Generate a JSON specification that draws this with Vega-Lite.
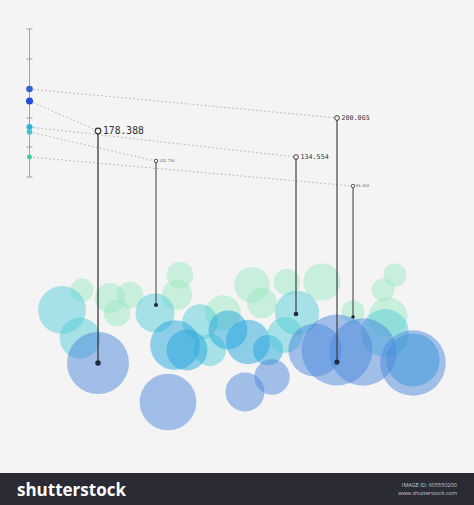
{
  "$schema": "https://vega.github.io/schema/vega-lite/v6.json",
  "width": 474,
  "height": 505,
  "padding": 0,
  "autosize": {"type": "fit", "contains": "padding"},
  "background": "#f4f4f4",
  "config": {"view": {"stroke": null}},
  "resolve": {"scale": {"color": "independent", "size": "independent", "strokeWidth": "independent"}},
  "datasets": {
    "bubbles": [
      {"x": 82, "y": 290, "r": 13, "tone": "mint"},
      {"x": 110, "y": 298, "r": 17, "tone": "mint"},
      {"x": 130, "y": 295, "r": 15, "tone": "mint"},
      {"x": 117, "y": 313, "r": 15, "tone": "mint"},
      {"x": 180, "y": 275, "r": 15, "tone": "mint"},
      {"x": 177, "y": 295, "r": 17, "tone": "mint"},
      {"x": 252, "y": 285, "r": 20, "tone": "mint"},
      {"x": 287, "y": 282, "r": 15, "tone": "mint"},
      {"x": 322, "y": 282, "r": 21, "tone": "mint"},
      {"x": 223, "y": 313, "r": 20, "tone": "mint"},
      {"x": 262, "y": 303, "r": 17, "tone": "mint"},
      {"x": 395, "y": 275, "r": 13, "tone": "mint"},
      {"x": 383, "y": 290, "r": 13, "tone": "mint"},
      {"x": 388, "y": 317, "r": 22, "tone": "mint"},
      {"x": 353, "y": 312, "r": 13, "tone": "mint"},
      {"x": 62, "y": 310, "r": 27, "tone": "aqua"},
      {"x": 297, "y": 313, "r": 25, "tone": "aqua"},
      {"x": 155, "y": 313, "r": 22, "tone": "aqua"},
      {"x": 200, "y": 322, "r": 20, "tone": "aqua"},
      {"x": 210, "y": 350, "r": 18, "tone": "aqua"},
      {"x": 385, "y": 333, "r": 27, "tone": "aqua"},
      {"x": 80, "y": 338, "r": 23, "tone": "aqua"},
      {"x": 228, "y": 330, "r": 22, "tone": "cyan"},
      {"x": 248, "y": 342, "r": 25, "tone": "cyan"},
      {"x": 268, "y": 350, "r": 17, "tone": "cyan"},
      {"x": 285, "y": 335, "r": 20, "tone": "aqua"},
      {"x": 187, "y": 350, "r": 23, "tone": "cyan"},
      {"x": 175, "y": 345, "r": 28, "tone": "cyan"},
      {"x": 413, "y": 360, "r": 30, "tone": "cyan"},
      {"x": 98, "y": 363, "r": 35, "tone": "blue"},
      {"x": 168, "y": 402, "r": 32, "tone": "blue"},
      {"x": 245, "y": 392, "r": 22, "tone": "blue"},
      {"x": 272, "y": 377, "r": 20, "tone": "blue"},
      {"x": 315, "y": 350, "r": 30, "tone": "blue"},
      {"x": 337, "y": 350, "r": 40, "tone": "blue"},
      {"x": 363, "y": 352, "r": 38, "tone": "blue"},
      {"x": 413, "y": 363, "r": 37, "tone": "blue"}
    ],
    "series": [
      {"label": "178.388", "ax": 29.5, "ay": 101, "mx": 98, "my": 131, "ey": 363, "weight": 3, "key": "a"},
      {"label": "200.065", "ax": 29.5, "ay": 89, "mx": 337, "my": 118, "ey": 362, "weight": 2, "key": "b"},
      {"label": "134.554", "ax": 29.5, "ay": 127, "mx": 296, "my": 157, "ey": 314, "weight": 2, "key": "c"},
      {"label": "135.734", "ax": 29.5, "ay": 132, "mx": 156, "my": 161, "ey": 305, "weight": 1, "key": "d"},
      {"label": "84.833", "ax": 29.5, "ay": 157, "mx": 353, "my": 186, "ey": 317, "weight": 1, "key": "e"}
    ],
    "axisLine": [{"x": 29.5, "y": 29, "y2": 177}],
    "ticks": [
      {"x": 26.5, "x2": 32.5, "y": 29},
      {"x": 26.5, "x2": 32.5, "y": 59},
      {"x": 26.5, "x2": 32.5, "y": 88},
      {"x": 26.5, "x2": 32.5, "y": 118},
      {"x": 26.5, "x2": 32.5, "y": 147},
      {"x": 26.5, "x2": 32.5, "y": 177}
    ],
    "footer": [{"x": 0, "x2": 474, "y": 473, "y2": 505}],
    "footerText": [
      {"x": 17, "y": 491, "t": "shutterstock", "kind": "logo"},
      {"x": 457, "y": 485, "t": "IMAGE ID: 605550200", "kind": "small"},
      {"x": 457, "y": 493, "t": "www.shutterstock.com", "kind": "small"}
    ]
  },
  "layer": [
    {
      "data": {"name": "bubbles"},
      "mark": {"type": "point", "shape": "circle", "filled": true, "opacity": 0.5, "strokeWidth": 0},
      "encoding": {
        "x": {"field": "x", "type": "quantitative", "scale": {"domain": [0, 474], "nice": false, "zero": false}, "axis": null},
        "y": {"field": "y", "type": "quantitative", "scale": {"domain": [0, 505], "reverse": true, "nice": false, "zero": false}, "axis": null},
        "size": {"field": "r", "type": "quantitative", "scale": {"type": "pow", "exponent": 2, "domain": [0, 50], "range": [0, 7854]}, "legend": null},
        "color": {"field": "tone", "type": "nominal", "scale": {"domain": ["mint", "aqua", "cyan", "blue"], "range": ["#9ce8c4", "#56ced8", "#24a6dc", "#4c88dc"]}, "legend": null}
      }
    },
    {
      "data": {"name": "series"},
      "mark": {"type": "rule", "color": "#b0b0b0", "strokeDash": [1.5, 2.5], "strokeWidth": 1},
      "encoding": {
        "x": {"field": "ax", "type": "quantitative", "scale": {"domain": [0, 474], "nice": false, "zero": false}, "axis": null},
        "y": {"field": "ay", "type": "quantitative", "scale": {"domain": [0, 505], "reverse": true, "nice": false, "zero": false}, "axis": null},
        "x2": {"field": "mx"},
        "y2": {"field": "my"}
      }
    },
    {
      "data": {"name": "axisLine"},
      "mark": {"type": "rule", "color": "#a0a0a0", "strokeWidth": 1},
      "encoding": {
        "x": {"field": "x", "type": "quantitative", "scale": {"domain": [0, 474], "nice": false, "zero": false}, "axis": null},
        "y": {"field": "y", "type": "quantitative", "scale": {"domain": [0, 505], "reverse": true, "nice": false, "zero": false}, "axis": null},
        "y2": {"field": "y2"}
      }
    },
    {
      "data": {"name": "ticks"},
      "mark": {"type": "rule", "color": "#a0a0a0", "strokeWidth": 1},
      "encoding": {
        "x": {"field": "x", "type": "quantitative", "scale": {"domain": [0, 474], "nice": false, "zero": false}, "axis": null},
        "x2": {"field": "x2"},
        "y": {"field": "y", "type": "quantitative", "scale": {"domain": [0, 505], "reverse": true, "nice": false, "zero": false}, "axis": null}
      }
    },
    {
      "data": {"name": "series"},
      "mark": {"type": "rule", "color": "#3a3a3a"},
      "encoding": {
        "x": {"field": "mx", "type": "quantitative", "scale": {"domain": [0, 474], "nice": false, "zero": false}, "axis": null},
        "y": {"field": "my", "type": "quantitative", "scale": {"domain": [0, 505], "reverse": true, "nice": false, "zero": false}, "axis": null},
        "y2": {"field": "ey"},
        "strokeWidth": {"field": "weight", "type": "ordinal", "scale": {"domain": [1, 2, 3], "range": [1, 1.3, 1.6]}, "legend": null}
      }
    },
    {
      "data": {"name": "series"},
      "mark": {"type": "point", "shape": "circle", "filled": true, "opacity": 1, "strokeWidth": 0},
      "encoding": {
        "x": {"field": "mx", "type": "quantitative", "scale": {"domain": [0, 474], "nice": false, "zero": false}, "axis": null},
        "y": {"field": "ey", "type": "quantitative", "scale": {"domain": [0, 505], "reverse": true, "nice": false, "zero": false}, "axis": null},
        "size": {"field": "label", "type": "nominal", "scale": {"domain": ["178.388", "200.065", "134.554", "135.734", "84.833"], "range": [30, 13, 14, 3, 5]}, "legend": null},
        "color": {"value": "#1f2a3a"}
      }
    },
    {
      "data": {"name": "series"},
      "mark": {"type": "point", "shape": "circle", "filled": true, "opacity": 1, "strokeWidth": 0},
      "encoding": {
        "x": {"field": "ax", "type": "quantitative", "scale": {"domain": [0, 474], "nice": false, "zero": false}, "axis": null},
        "y": {"field": "ay", "type": "quantitative", "scale": {"domain": [0, 505], "reverse": true, "nice": false, "zero": false}, "axis": null},
        "size": {"field": "key", "type": "nominal", "scale": {"domain": ["a", "b", "c", "d", "e"], "range": [50, 24, 28, 10, 8]}, "legend": null},
        "color": {"field": "key", "type": "nominal", "scale": {"domain": ["a", "b", "c", "d", "e"], "range": ["#1d4fd8", "#2f63cf", "#2fb0d8", "#45c0d4", "#3ec9a8"]}, "legend": null}
      }
    },
    {
      "data": {"name": "series"},
      "mark": {"type": "point", "shape": "circle", "filled": false, "fill": "#f6f6f6", "fillOpacity": 1, "stroke": "#333", "opacity": 1},
      "encoding": {
        "x": {"field": "mx", "type": "quantitative", "scale": {"domain": [0, 474], "nice": false, "zero": false}, "axis": null},
        "y": {"field": "my", "type": "quantitative", "scale": {"domain": [0, 505], "reverse": true, "nice": false, "zero": false}, "axis": null},
        "size": {"field": "weight", "type": "ordinal", "scale": {"domain": [1, 2, 3], "range": [12, 32, 58]}, "legend": null},
        "strokeWidth": {"field": "weight", "type": "ordinal", "scale": {"domain": [1, 2, 3], "range": [0.8, 1.1, 1.3]}, "legend": null}
      }
    },
    {
      "data": {"name": "series"},
      "transform": [{"filter": "datum.weight == 3"}],
      "mark": {"type": "text", "align": "left", "baseline": "middle", "dx": 5, "fontSize": 9.7, "font": "DejaVu Sans Mono", "color": "#333"},
      "encoding": {
        "x": {"field": "mx", "type": "quantitative", "scale": {"domain": [0, 474], "nice": false, "zero": false}, "axis": null},
        "y": {"field": "my", "type": "quantitative", "scale": {"domain": [0, 505], "reverse": true, "nice": false, "zero": false}, "axis": null},
        "text": {"field": "label"}
      }
    },
    {
      "data": {"name": "series"},
      "transform": [{"filter": "datum.weight == 2"}],
      "mark": {"type": "text", "align": "left", "baseline": "middle", "dx": 4.5, "fontSize": 6.7, "font": "DejaVu Sans Mono", "color": "#333"},
      "encoding": {
        "x": {"field": "mx", "type": "quantitative", "scale": {"domain": [0, 474], "nice": false, "zero": false}, "axis": null},
        "y": {"field": "my", "type": "quantitative", "scale": {"domain": [0, 505], "reverse": true, "nice": false, "zero": false}, "axis": null},
        "text": {"field": "label"}
      }
    },
    {
      "data": {"name": "series"},
      "transform": [{"filter": "datum.weight == 1"}],
      "mark": {"type": "text", "align": "left", "baseline": "middle", "dx": 3, "fontSize": 3.7, "font": "DejaVu Sans Mono", "color": "#555"},
      "encoding": {
        "x": {"field": "mx", "type": "quantitative", "scale": {"domain": [0, 474], "nice": false, "zero": false}, "axis": null},
        "y": {"field": "my", "type": "quantitative", "scale": {"domain": [0, 505], "reverse": true, "nice": false, "zero": false}, "axis": null},
        "text": {"field": "label"}
      }
    },
    {
      "data": {"name": "footer"},
      "mark": {"type": "rect", "color": "#2a2b34"},
      "encoding": {
        "x": {"field": "x", "type": "quantitative", "scale": {"domain": [0, 474], "nice": false, "zero": false}, "axis": null},
        "x2": {"field": "x2"},
        "y": {"field": "y", "type": "quantitative", "scale": {"domain": [0, 505], "reverse": true, "nice": false, "zero": false}, "axis": null},
        "y2": {"field": "y2"}
      }
    },
    {
      "data": {"name": "footerText"},
      "transform": [{"filter": "datum.kind == 'logo'"}],
      "mark": {"type": "text", "align": "left", "baseline": "middle", "fontSize": 17, "fontWeight": "bold", "font": "Open Sans", "color": "#ffffff"},
      "encoding": {
        "x": {"field": "x", "type": "quantitative", "scale": {"domain": [0, 474], "nice": false, "zero": false}, "axis": null},
        "y": {"field": "y", "type": "quantitative", "scale": {"domain": [0, 505], "reverse": true, "nice": false, "zero": false}, "axis": null},
        "text": {"field": "t"}
      }
    },
    {
      "data": {"name": "footerText"},
      "transform": [{"filter": "datum.kind == 'small'"}],
      "mark": {"type": "text", "align": "right", "baseline": "middle", "fontSize": 5.5, "font": "Open Sans", "color": "#c8c8cc"},
      "encoding": {
        "x": {"field": "x", "type": "quantitative", "scale": {"domain": [0, 474], "nice": false, "zero": false}, "axis": null},
        "y": {"field": "y", "type": "quantitative", "scale": {"domain": [0, 505], "reverse": true, "nice": false, "zero": false}, "axis": null},
        "text": {"field": "t"}
      }
    }
  ]
}
